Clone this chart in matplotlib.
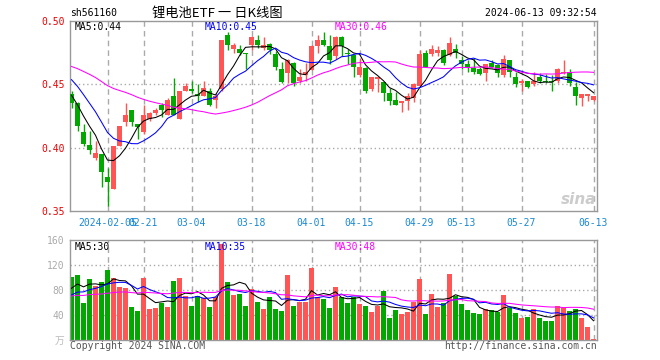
import numpy as np
import pandas as pd
import matplotlib
matplotlib.use("Agg")
import matplotlib.pyplot as plt

mono = ['DejaVu Sans Mono', 'Noto Sans CJK SC']
cjk = ['Noto Sans CJK SC', 'DejaVu Sans']
plt.rcParams['font.family'] = mono

# trading days shown (exchange holidays removed)
holidays = ["2024-02-09", "2024-02-12", "2024-02-13", "2024-02-14", "2024-02-15",
            "2024-02-16", "2024-04-04", "2024-04-05", "2024-05-01", "2024-05-02",
            "2024-05-03", "2024-06-10"]
days = pd.bdate_range("2024-01-26", "2024-06-13")
days = days[~days.isin(pd.to_datetime(holidays))]

open_ = [0.442, 0.435, 0.412, 0.402, 0.392, 0.395, 0.377, 0.367, 0.401, 0.420,
         0.430, 0.419, 0.412, 0.423, 0.427, 0.434, 0.426, 0.441, 0.423, 0.445,
         0.446, 0.442, 0.441, 0.445, 0.438, 0.446, 0.489, 0.478, 0.478, 0.475,
         0.481, 0.485, 0.479, 0.482, 0.474, 0.462, 0.459, 0.467, 0.453, 0.457,
         0.461, 0.480, 0.485, 0.480, 0.472, 0.487, 0.475, 0.473, 0.457, 0.463,
         0.446, 0.454, 0.452, 0.443, 0.438, 0.435, 0.437, 0.439, 0.449, 0.475,
         0.474, 0.475, 0.477, 0.473, 0.478, 0.469, 0.466, 0.463, 0.462, 0.459,
         0.467, 0.465, 0.457, 0.469, 0.456, 0.451, 0.453, 0.450, 0.456, 0.453,
         0.453, 0.453, 0.459, 0.460, 0.448, 0.439, 0.441, 0.438]
high = [0.445, 0.436, 0.419, 0.413, 0.405, 0.395, 0.384, 0.401, 0.417, 0.435,
        0.430, 0.419, 0.434, 0.428, 0.431, 0.435, 0.439, 0.455, 0.445, 0.451,
        0.453, 0.450, 0.453, 0.447, 0.443, 0.485, 0.491, 0.483, 0.481, 0.475,
        0.488, 0.489, 0.487, 0.483, 0.476, 0.468, 0.470, 0.468, 0.462, 0.467,
        0.481, 0.489, 0.491, 0.489, 0.488, 0.488, 0.478, 0.474, 0.471, 0.464,
        0.456, 0.456, 0.452, 0.447, 0.444, 0.437, 0.443, 0.451, 0.477, 0.477,
        0.481, 0.480, 0.478, 0.487, 0.482, 0.472, 0.469, 0.471, 0.464, 0.466,
        0.469, 0.466, 0.473, 0.469, 0.460, 0.454, 0.453, 0.460, 0.459, 0.458,
        0.457, 0.463, 0.469, 0.462, 0.452, 0.442, 0.442, 0.441]
low = [0.431, 0.413, 0.401, 0.395, 0.390, 0.369, 0.354, 0.367, 0.401, 0.417,
       0.417, 0.407, 0.411, 0.421, 0.426, 0.424, 0.426, 0.426, 0.423, 0.445,
       0.443, 0.436, 0.441, 0.433, 0.431, 0.445, 0.477, 0.475, 0.473, 0.462,
       0.477, 0.479, 0.477, 0.474, 0.461, 0.451, 0.451, 0.449, 0.451, 0.453,
       0.461, 0.475, 0.480, 0.466, 0.470, 0.472, 0.466, 0.456, 0.456, 0.443,
       0.445, 0.444, 0.437, 0.434, 0.434, 0.428, 0.430, 0.436, 0.448, 0.464,
       0.472, 0.472, 0.465, 0.472, 0.471, 0.462, 0.460, 0.458, 0.457, 0.453,
       0.463, 0.456, 0.456, 0.456, 0.448, 0.445, 0.447, 0.449, 0.451, 0.451,
       0.445, 0.451, 0.458, 0.449, 0.434, 0.433, 0.437, 0.437]
close = [0.435, 0.417, 0.403, 0.398, 0.396, 0.381, 0.373, 0.401, 0.417, 0.426,
         0.420, 0.416, 0.426, 0.427, 0.430, 0.430, 0.438, 0.426, 0.445, 0.449,
         0.445, 0.441, 0.447, 0.434, 0.441, 0.485, 0.481, 0.481, 0.475, 0.474,
         0.487, 0.481, 0.481, 0.477, 0.464, 0.452, 0.469, 0.451, 0.456, 0.460,
         0.480, 0.485, 0.481, 0.469, 0.487, 0.480, 0.474, 0.464, 0.464, 0.445,
         0.456, 0.456, 0.443, 0.437, 0.434, 0.437, 0.441, 0.450, 0.474, 0.464,
         0.478, 0.477, 0.467, 0.483, 0.475, 0.466, 0.463, 0.460, 0.458, 0.466,
         0.464, 0.459, 0.470, 0.460, 0.450, 0.453, 0.448, 0.453, 0.453, 0.452,
         0.452, 0.462, 0.460, 0.451, 0.441, 0.442, 0.442, 0.441]
# closes before the window, only used to warm up the moving averages
prior_close = [0.468, 0.470, 0.466, 0.472, 0.475, 0.471, 0.468, 0.465, 0.470, 0.474,
               0.478, 0.476, 0.470, 0.466, 0.462, 0.468, 0.472, 0.466, 0.463, 0.466,
               0.470, 0.468, 0.466, 0.464, 0.462, 0.455, 0.447, 0.438, 0.432]

# volume, 万
volume = [101, 104, 59, 98, 87, 93, 112, 99, 85, 84,
          53, 46, 99, 50, 51, 59, 53, 94, 99, 70,
          54, 70, 67, 53, 69, 154, 93, 72, 74, 54,
          82, 61, 50, 69, 50, 46, 104, 54, 61, 61,
          115, 69, 66, 51, 85, 69, 59, 69, 58, 54,
          45, 54, 78, 35, 48, 42, 45, 61, 98, 42,
          74, 53, 59, 106, 70, 58, 48, 43, 42, 50,
          48, 45, 72, 51, 43, 35, 37, 50, 35, 30,
          30, 54, 51, 46, 50, 35, 21, 2]
prior_volume = [72, 65, 58, 70, 81, 74, 66, 62, 78, 85,
                69, 60, 64, 73, 79, 68, 61, 67, 72, 68,
                58, 55, 63, 66, 64, 70, 82, 76, 85]

tick_dates = ["2024-02-05", "2024-02-21", "2024-03-04", "2024-03-18", "2024-04-01",
              "2024-04-15", "2024-04-29", "2024-05-13", "2024-05-27", "2024-06-13"]
tick_labels = ["2024-02-05", "02-21", "03-04", "03-18", "04-01",
               "04-15", "04-29", "05-13", "05-27", "06-13"]

price_ma_text = ["MA5:0.44", "MA10:0.45", "MA30:0.46"]
vol_ma_text = ["MA5:30", "MA10:35", "MA30:48"]

RED = '#ff5555'
GREEN = '#00a800'
ma_colors = ['black', '#0000ff', '#ff00ff']
FRAME = '#999999'

o = np.array(open_)
h = np.array(high)
l = np.array(low)
c = np.array(close)
v = np.array(volume, dtype=float)
x = np.arange(len(days))
col = np.where(c >= o, RED, GREEN)

cs = pd.Series(prior_close + close)
vs = pd.Series(prior_volume + volume, dtype=float)
n0 = len(prior_close)
price_ma = [cs.rolling(n).mean().values[n0:] for n in (5, 10, 30)]
vol_ma = [vs.rolling(n).mean().values[n0:] for n in (5, 10, 30)]

W, H = 660, 360
fig = plt.figure(figsize=(W / 100, H / 100), dpi=100)


def box(left, top, right, bottom):
    return [left / W, 1 - bottom / H, (right - left) / W, (bottom - top) / H]


ax = fig.add_axes(box(70, 21, 597, 211))
axv = fig.add_axes(box(70, 240, 597, 340))

tick_pos = [int(np.where(days == pd.Timestamp(d))[0][0]) for d in tick_dates]

for a in (ax, axv):
    a.set_xlim(-0.25, 87.58)
    for s in a.spines.values():
        s.set_color(FRAME)
        s.set_linewidth(1)
    for p in tick_pos:
        a.axvline(p, color='#aaaaaa', lw=1, ls=(0, (4, 3)), zorder=0)
    a.tick_params(length=0, labelsize=7)

# candles
ax.vlines(x, l, h, colors=col, lw=1, zorder=2)
ax.bar(x, np.maximum(np.abs(c - o), 0.0006), bottom=np.minimum(o, c),
       width=0.8, color=col, lw=0, zorder=3)
for m, mc in zip(price_ma, ma_colors):
    ax.plot(x, m, color=mc, lw=0.75, zorder=4)
ax.set_ylim(0.35, 0.50)
for yv in (0.40, 0.45):
    ax.axhline(yv, color='#aaaaaa', lw=1, ls=(0, (1, 2)), zorder=0)
ax.set_yticks([0.35, 0.40, 0.45, 0.50])
ax.set_yticklabels(["0.35", "0.40", "0.45", "0.50"], color='#ee0000')
ax.tick_params(axis='y', pad=4)
ax.set_xticks(tick_pos)
ax.set_xticklabels(tick_labels, color='#1a88d4')
ax.tick_params(axis='x', pad=5)

# volume
axv.bar(x, v, width=0.82, color=col, lw=0, zorder=2)
for m, mc in zip(vol_ma, ma_colors):
    axv.plot(x, m, color=mc, lw=0.75, zorder=4)
axv.set_ylim(0, 160)
for yv in (40, 80, 120):
    axv.axhline(yv, color='#aaaaaa', lw=1, ls=(0, (1, 2)), zorder=0)
axv.set_yticks([40, 80, 120, 160])
axv.set_yticklabels(["40", "80", "120", "160"], color='#aaaaaa')
axv.tick_params(axis='y', pad=4)
axv.set_xticks([])


def ftext(px, py, s, **kw):
    fig.text(px / W, 1 - py / H, s, va='center', **kw)


ftext(70, 13, 'sh561160', ha='left', fontsize=7)
ftext(217, 13, '锂电池ETF 一 日K线图', ha='center', fontsize=9.5, family=cjk)
ftext(597, 13, '2024-06-13 09:32:54', ha='right', fontsize=7)

for xp, s, mc in zip((75, 205, 335), price_ma_text, ma_colors):
    ftext(xp, 26.5, s, ha='left', fontsize=7, color=mc)
for xp, s, mc in zip((75, 205, 335), vol_ma_text, ma_colors):
    ftext(xp, 246.5, s, ha='left', fontsize=7, color=mc)

ftext(64, 341, '万', ha='right', fontsize=7, color='#bbbbbb', family=cjk)
ftext(70, 346, 'Copyright 2024 SINA.COM', ha='left', fontsize=7, color='#555555')
ftext(597, 346, 'http://finance.sina.com.cn', ha='right', fontsize=7, color='#555555')
ftext(596, 199, 'sina', ha='right', fontsize=11, color='#cccccc',
      fontstyle='italic', fontweight='bold', family=['DejaVu Sans'])

fig.savefig('out.png', dpi=100)
